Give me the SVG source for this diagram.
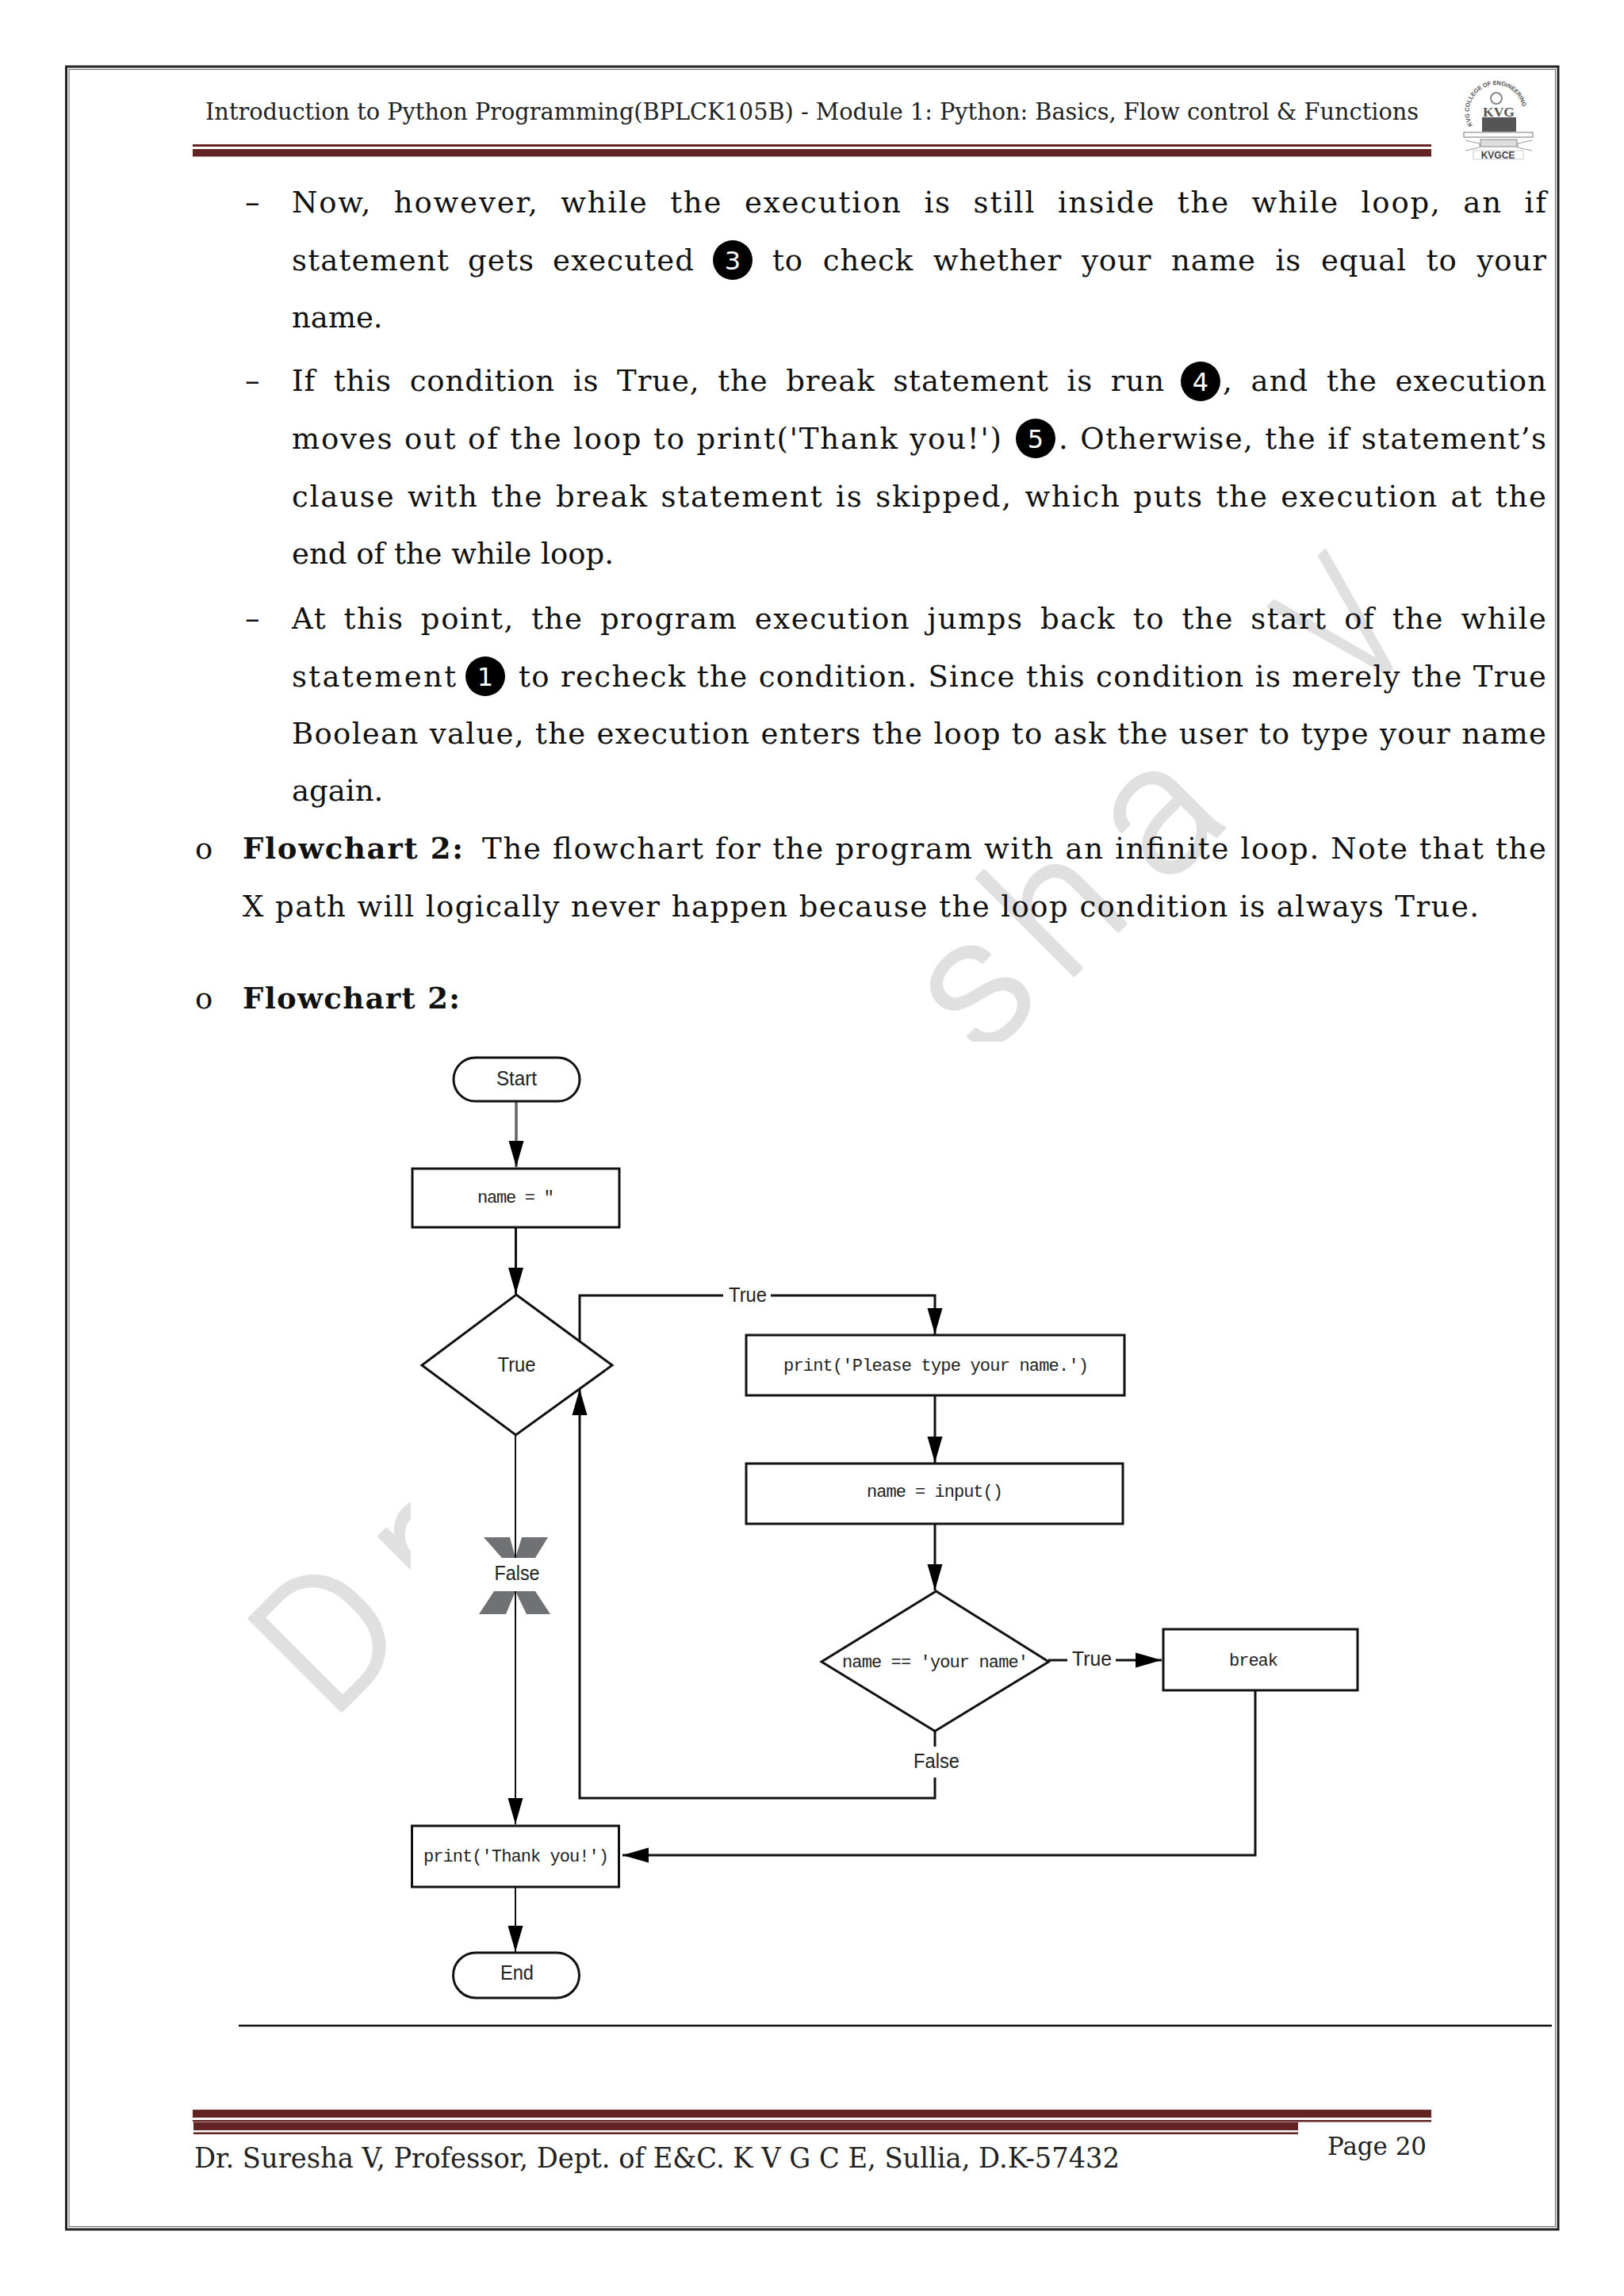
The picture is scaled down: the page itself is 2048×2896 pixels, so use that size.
<svg xmlns="http://www.w3.org/2000/svg" width="2048" height="2896" viewBox="0 0 2048 2896">
<style>
.body{font-family:"DejaVu Serif","Liberation Serif",serif;font-size:37px;fill:#111}
.b{font-weight:700}
.num{font-family:"DejaVu Sans","Liberation Sans",sans-serif;font-size:32px;fill:#fff;text-anchor:middle}
.wm{font-family:Roboto,"Liberation Sans",sans-serif;font-weight:300;font-size:232px;fill:#e0e0e0;stroke:#e0e0e0;stroke-width:3.500px;stroke-linejoin:round}
.hdr{font-family:"DejaVu Serif","Liberation Serif",serif;font-size:30px;fill:#222}
.ftr{font-family:"DejaVu Serif","Liberation Serif",serif;font-size:36px;fill:#222}
.sh{fill:#fff;stroke:#111;stroke-width:3}
.mono{font-family:"Liberation Mono",monospace;font-size:22px;fill:#222}
.lbl{font-family:"Liberation Sans",sans-serif;font-size:25px;fill:#222}
.ln{fill:none;stroke:#111;stroke-width:3}
.bar{fill:#622423}
</style>
<defs>
<marker id="ah" markerUnits="userSpaceOnUse" markerWidth="34" markerHeight="22" refX="33" refY="11" viewBox="0 0 34 22" orient="auto"><path d="M0 1.500L33 11L0 20.500Z" fill="#000"/></marker>
</defs>
<rect width="2048" height="2896" fill="#fff"/>
<g id="page-border" fill="none" stroke="#222">
<rect x="83.500" y="84" width="1881.500" height="2728" stroke-width="3"/>
<rect x="87" y="87.500" width="1874.500" height="2721" stroke-width="1.200" stroke="#777"/>
</g>
<g id="watermark">
<text class="wm" transform="translate(416 2173) rotate(-45)">D</text>
<text class="wm" transform="translate(552 2037) rotate(-45)">r</text>
<text class="wm" transform="translate(1237 1340) rotate(-45)">s</text>
<text class="wm" transform="translate(1342 1243) rotate(-45)">h</text>
<text class="wm" transform="translate(1467 1122) rotate(-45)">a</text>
<text class="wm" transform="translate(1714 884) rotate(-45) scale(.75 1)">V</text>
</g>
<g id="header">
<text class="hdr" x="259" y="151" textLength="1530" lengthAdjust="spacingAndGlyphs">Introduction to Python Programming(BPLCK105B) - Module 1: Python: Basics, Flow control &amp; Functions</text>
<rect class="bar" x="243" y="182" width="1562" height="3"/>
<rect class="bar" x="243" y="188" width="1562" height="9.500"/>
</g>
<g id="logo">
<path id="logoarc" d="M1857 158A34 34 0 1 1 1916 158" fill="none"/>
<text font-family="Liberation Sans,sans-serif" font-size="7.500" font-weight="700" fill="#555"><textPath href="#logoarc" textLength="118">KVG COLLEGE OF ENGINEERING</textPath></text>
<circle cx="1887" cy="124" r="7" fill="none" stroke="#888" stroke-width="2"/>
<text x="1890" y="147" text-anchor="middle" font-family="Liberation Serif,serif" font-weight="700" font-size="17" fill="#555" textLength="40" lengthAdjust="spacingAndGlyphs">KVG</text>
<rect x="1869" y="148" width="43" height="18" fill="#555"/>
<rect x="1846" y="167" width="87" height="6" fill="#fff" stroke="#777"/>
<path d="M1848 177L1866 181L1866 186L1848 190M1932 177L1914 181L1914 186L1932 190" fill="none" stroke="#999"/>
<rect x="1867" y="176" width="46" height="9" fill="#ddd" stroke="#888"/>
<rect x="1858" y="190" width="63" height="11" fill="#fff" stroke="#ccc"/>
<text x="1889" y="200" text-anchor="middle" font-family="Liberation Sans,sans-serif" font-weight="700" font-size="12" fill="#444">KVGCE</text>
</g>
<g id="text-body">
<text class="body" x="309" y="268">–</text>
<text class="body" x="368" y="268" word-spacing="14" textLength="1582">Now, however, while the execution is still inside the while loop, an if</text>
<text class="body" x="368" y="341" word-spacing="10" textLength="507">statement gets executed</text>
<circle cx="924" cy="328" r="25"/><text class="num" x="924" y="340">3</text>
<text class="body" x="974" y="341" word-spacing="12" textLength="976">to check whether your name is equal to your</text>
<text class="body" x="368" y="413">name.</text>
<text class="body" x="309" y="493">–</text>
<text class="body" x="368" y="493" word-spacing="10" textLength="1100">If this condition is True, the break statement is run</text>
<circle cx="1514" cy="481" r="25"/><text class="num" x="1514" y="493">4</text>
<text class="body" x="1542" y="493" word-spacing="10" textLength="408">, and the execution</text>
<text class="body" x="368" y="566" textLength="895">moves out of the loop to print('Thank you!')</text>
<circle cx="1306" cy="553" r="25"/><text class="num" x="1306" y="565">5</text>
<text class="body" x="1335" y="566" word-spacing="1" textLength="615">.  Otherwise, the if statement’s</text>
<text class="body" x="368" y="639" word-spacing="2" textLength="1582">clause with the break statement is skipped, which puts the execution at the</text>
<text class="body" x="368" y="711">end of the while loop.</text>
<text class="body" x="309" y="793">–</text>
<text class="body" x="368" y="793" word-spacing="8" textLength="1582">At this point, the program execution jumps back to the start of the while</text>
<text class="body" x="368" y="866" textLength="207">statement</text>
<circle cx="612" cy="853" r="25"/><text class="num" x="612" y="865">1</text>
<text class="body" x="654" y="866" textLength="1296">to recheck the condition. Since this condition is merely the True</text>
<text class="body" x="368" y="938" textLength="1582">Boolean value, the execution enters the loop to ask the user to type your name</text>
<text class="body" x="368" y="1010">again.</text>
<text class="body" x="246" y="1083">o</text>
<text class="body b" x="306" y="1083" textLength="278">Flowchart 2:</text>
<text class="body" x="608" y="1083" textLength="1342">The flowchart for the program with an infinite loop. Note that the</text>
<text class="body" x="306" y="1156" textLength="1559">X path will logically never happen because the loop condition is always True.</text>
<text class="body" x="246" y="1272">o</text>
<text class="body b" x="306" y="1272" textLength="274">Flowchart 2:</text>
</g>
<rect id="figure-ground" x="518" y="1314" width="1439" height="1232" fill="#fff"/>
<g id="x-mark" fill="#6f7173">
<path d="M610 1939L643 1939L650 1965L633 1965Z"/>
<path d="M658 1939L691 1939L675 1965L650 1965Z"/>
<path d="M623 2007L650 2007L638 2036L604 2036Z"/>
<path d="M650 2007L675 2007L694 2036L664 2036Z"/>
</g>
<g id="connectors">
<path d="M651 1389V1472" fill="none" stroke="#666" stroke-width="3.500" marker-end="url(#ah)"/>
<path class="ln" d="M650.500 1548V1632" marker-end="url(#ah)"/>
<path class="ln" d="M731 1691V1634H912M972 1634H1179V1683" marker-end="url(#ah)"/>
<path class="ln" d="M1179 1760V1845" marker-end="url(#ah)"/>
<path class="ln" d="M1179 1922V2006" marker-end="url(#ah)"/>
<path class="ln" d="M1322 2094H1346"/>
<path class="ln" d="M1407 2094H1465" marker-end="url(#ah)"/>
<path class="ln" d="M1179 2183V2203M1179 2242V2268H731V1752" marker-end="url(#ah)"/>
<path class="ln" style="stroke-width:2" d="M650 1810V1965"/>
<path class="ln" style="stroke-width:2" d="M650 2007V2301" marker-end="url(#ah)"/>
<path class="ln" d="M1583 2132V2340H785" marker-end="url(#ah)"/>
<path class="ln" style="stroke-width:2" d="M650 2380V2462" marker-end="url(#ah)"/>
</g>
<g id="node-start"><rect class="sh" x="572" y="1334" width="159" height="55" rx="27.500"/><text class="lbl" x="626" y="1369" textLength="51" lengthAdjust="spacingAndGlyphs">Start</text></g>
<g id="node-name-empty"><rect class="sh" x="520" y="1474" width="261" height="74"/><text class="mono" x="602" y="1517" textLength="97">name = "</text></g>
<g id="node-true"><path class="sh" d="M651 1633L772 1722L650.500 1810L532 1722Z"/><text class="lbl" x="627.500" y="1730" textLength="48" lengthAdjust="spacingAndGlyphs">True</text></g>
<g id="node-print-name"><rect class="sh" x="941" y="1684" width="477" height="76"/><text class="mono" x="988" y="1729" textLength="385">print('Please type your name.')</text></g>
<g id="node-input"><rect class="sh" x="941" y="1846" width="475" height="76"/><text class="mono" x="1093" y="1888" textLength="172">name = input()</text></g>
<g id="node-if-name"><path class="sh" d="M1180.500 2007L1322.500 2096L1179 2183.500L1036 2096Z"/><text class="mono" x="1062" y="2103" textLength="235">name == 'your name'</text></g>
<g id="node-break"><rect class="sh" x="1467" y="2055" width="245" height="77"/><text class="mono" x="1550" y="2101" textLength="62">break</text></g>
<g id="node-print-thanks"><rect class="sh" x="519.500" y="2303" width="261" height="77"/><text class="mono" x="534" y="2348" textLength="234">print('Thank you!')</text></g>
<g id="node-end"><rect class="sh" x="571.500" y="2463" width="159" height="57" rx="28.500"/><text class="lbl" x="631" y="2497" textLength="42" lengthAdjust="spacingAndGlyphs">End</text></g>
<g id="edge-labels">
<text class="lbl" x="919" y="1642" textLength="48" lengthAdjust="spacingAndGlyphs">True</text>
<text class="lbl" x="623.500" y="1993" textLength="57" lengthAdjust="spacingAndGlyphs">False</text>
<text class="lbl" x="1352" y="2101" textLength="50" lengthAdjust="spacingAndGlyphs">True</text>
<text class="lbl" x="1152" y="2230" textLength="58" lengthAdjust="spacingAndGlyphs">False</text>
</g>
<path id="footnote-rule" d="M301 2555H1957" stroke="#111" stroke-width="2.500"/>
<g id="footer">
<rect class="bar" x="243" y="2661" width="1562" height="10"/>
<rect class="bar" x="243" y="2674" width="1562" height="2.500"/>
<rect class="bar" x="244" y="2677" width="1393" height="10"/>
<rect class="bar" x="244" y="2689.500" width="1393" height="2.500"/>
<text class="ftr" x="245" y="2734" textLength="1167" lengthAdjust="spacingAndGlyphs">Dr. Suresha V, Professor, Dept. of E&amp;C.  K V G C E, Sullia, D.K-57432</text>
<text class="ftr" style="font-size:31px" x="1674" y="2718" textLength="125" lengthAdjust="spacingAndGlyphs">Page 20</text>
</g>
</svg>
